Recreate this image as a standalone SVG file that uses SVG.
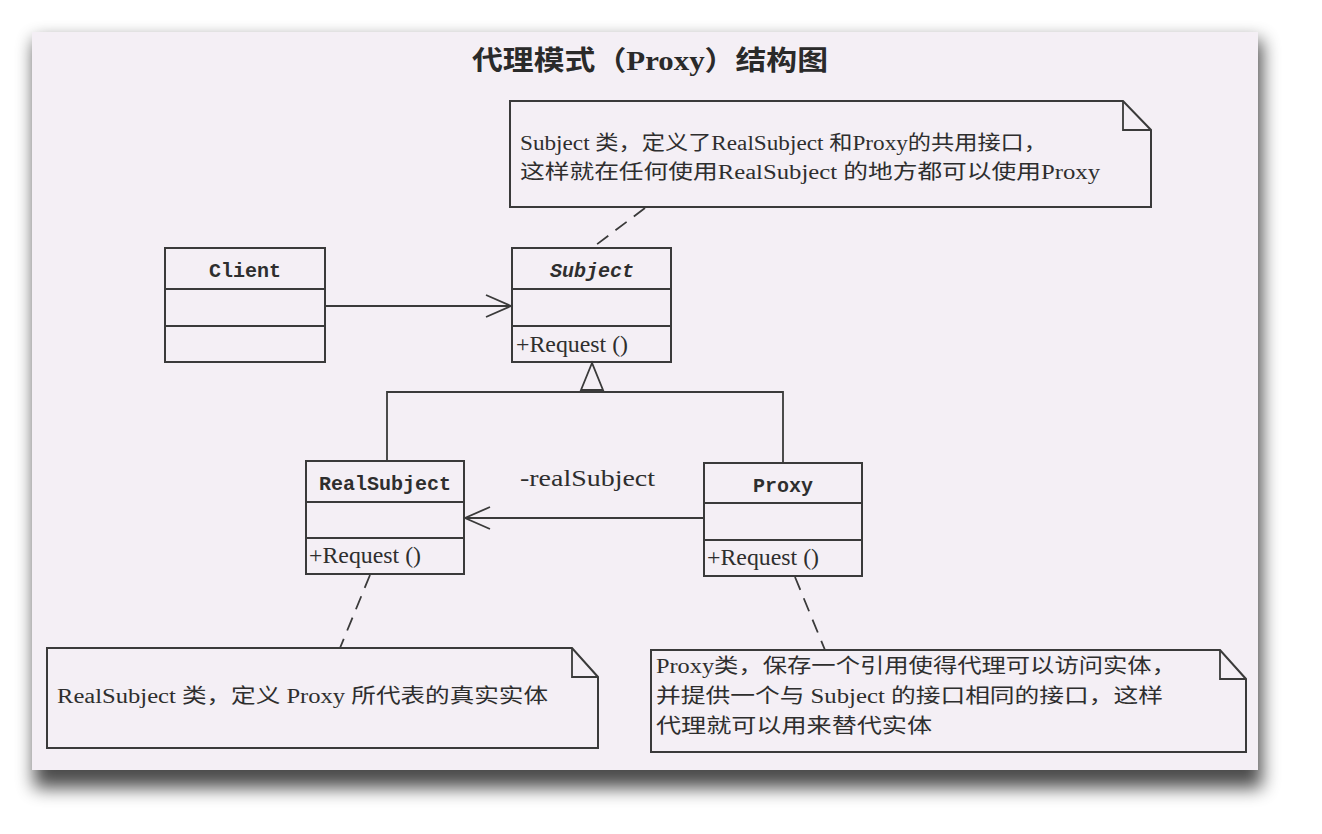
<svg xmlns="http://www.w3.org/2000/svg" width="1322" height="834" viewBox="0 0 1322 834">
<defs>
<filter id="sh" x="-10%" y="-10%" width="120%" height="125%"><feGaussianBlur stdDeviation="9"/></filter>
<marker id="open" markerWidth="30" markerHeight="30" refX="27" refY="13" orient="auto" markerUnits="userSpaceOnUse"><path d="M2,2 L27,13 L2,24" fill="none" stroke="#3a3a3a" stroke-width="1.8"/></marker>
<style>
.ln{fill:none;stroke:#3a3a3a;stroke-width:1.8}
.box{fill:none;stroke:#3a3a3a;stroke-width:2}
.dash{fill:none;stroke:#3a3a3a;stroke-width:1.8;stroke-dasharray:14 9}
.cls{font-family:"Liberation Mono","DejaVu Sans Mono",monospace;font-weight:bold;font-size:20px;fill:#2e2e2e}
.op{font-family:"Liberation Serif",serif;font-size:23px;fill:#2e2e2e}
.nt{font-family:"Liberation Serif","Noto Sans CJK SC",serif;font-size:20px;fill:#2e2e2e}
.title{font-family:"Liberation Serif","Noto Sans CJK SC",serif;font-weight:bold;font-size:27px;fill:#2a2a2a}
</style>
</defs>
<rect width="1322" height="834" fill="#ffffff"/>
<rect x="34" y="40" width="1228" height="748" fill="#000" opacity="0.7" filter="url(#sh)"/>
<rect x="32" y="32" width="1226" height="738" fill="#f4eff5"/>
<text class="title" x="650" y="70" text-anchor="middle" textLength="356" lengthAdjust="spacingAndGlyphs">代理模式（Proxy）结构图</text>

<g id="note-subject">
<path class="box" d="M510,101 H1123 L1151,130 V207 H510 Z"/>
<path class="ln" d="M1123,101 V130 H1151"/>
<text class="nt" x="520" y="150" textLength="527" lengthAdjust="spacingAndGlyphs">Subject 类，定义了RealSubject 和Proxy的共用接口，</text>
<text class="nt" x="520" y="179" textLength="580" lengthAdjust="spacingAndGlyphs">这样就在任何使用RealSubject 的地方都可以使用Proxy</text>
</g>

<g id="client">
<rect class="box" x="165" y="248" width="160" height="114"/>
<line class="ln" x1="165" y1="289" x2="325" y2="289"/>
<line class="ln" x1="165" y1="326" x2="325" y2="326"/>
<text class="cls" x="245" y="277" text-anchor="middle">Client</text>
</g>

<g id="subject">
<rect class="box" x="512" y="248" width="159" height="114"/>
<line class="ln" x1="512" y1="289" x2="671" y2="289"/>
<line class="ln" x1="512" y1="326" x2="671" y2="326"/>
<text class="cls" x="592" y="277" text-anchor="middle" font-style="italic" font-weight="normal">Subject</text>
<text class="op" x="516" y="352" textLength="112" lengthAdjust="spacingAndGlyphs">+Request ()</text>
</g>

<g id="realsubject">
<rect class="box" x="306" y="461" width="158" height="113"/>
<line class="ln" x1="306" y1="502" x2="464" y2="502"/>
<line class="ln" x1="306" y1="538" x2="464" y2="538"/>
<text class="cls" x="385" y="490" text-anchor="middle">RealSubject</text>
<text class="op" x="309" y="563" textLength="112" lengthAdjust="spacingAndGlyphs">+Request ()</text>
</g>

<g id="proxy">
<rect class="box" x="704" y="463" width="158" height="113"/>
<line class="ln" x1="704" y1="503" x2="862" y2="503"/>
<line class="ln" x1="704" y1="540" x2="862" y2="540"/>
<text class="cls" x="783" y="492" text-anchor="middle">Proxy</text>
<text class="op" x="707" y="565" textLength="112" lengthAdjust="spacingAndGlyphs">+Request ()</text>
</g>

<g id="note-realsubject">
<path class="box" d="M47,648 H572 L598,677 V748 H47 Z"/>
<path class="ln" d="M572,648 V677 H598"/>
<text class="nt" x="57" y="703" textLength="491" lengthAdjust="spacingAndGlyphs">RealSubject 类，定义 Proxy 所代表的真实实体</text>
</g>

<g id="note-proxy">
<path class="box" d="M651,650 H1220 L1246,679 V752 H651 Z"/>
<path class="ln" d="M1220,650 V679 H1246"/>
<text class="nt" x="656" y="673" textLength="520" lengthAdjust="spacingAndGlyphs">Proxy类，保存一个引用使得代理可以访问实体，</text>
<text class="nt" x="656" y="703" textLength="507" lengthAdjust="spacingAndGlyphs">并提供一个与 Subject 的接口相同的接口，这样</text>
<text class="nt" x="656" y="733" textLength="276" lengthAdjust="spacingAndGlyphs">代理就可以用来替代实体</text>
</g>

<g id="connectors">
<line class="ln" x1="325" y1="306" x2="511" y2="306" marker-end="url(#open)"/>
<path class="ln" d="M592,363 L581,390 H603 Z"/>
<path class="ln" d="M592,390 V392 M387,461 V392 H783 V463"/>
<line class="ln" x1="704" y1="518" x2="465" y2="518" marker-end="url(#open)"/>
<text class="op" x="520" y="486" textLength="135" lengthAdjust="spacingAndGlyphs">-realSubject</text>
<line class="dash" x1="645" y1="208" x2="592" y2="248"/>
<line class="dash" x1="370" y1="575" x2="340" y2="648"/>
<line class="dash" x1="795" y1="577" x2="825" y2="650"/>
</g>
</svg>
